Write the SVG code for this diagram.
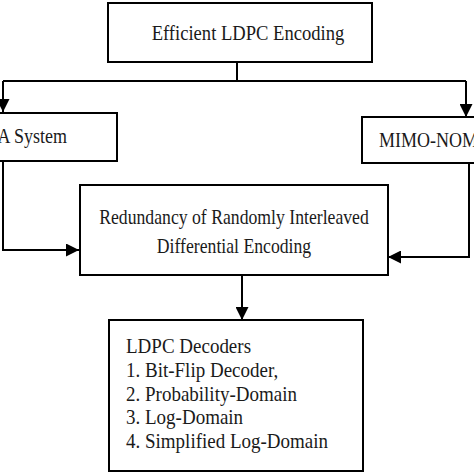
<svg xmlns="http://www.w3.org/2000/svg" width="474" height="474" viewBox="0 0 474 474">
<style>
.box{fill:#fff;stroke:#000;stroke-width:2}
.ln{fill:none;stroke:#000;stroke-width:2}
text{font-family:"Liberation Serif","Times New Roman",serif;fill:#1a1a1a}
</style>
<defs>
<marker id="ah" markerUnits="userSpaceOnUse" markerWidth="13" markerHeight="13" refX="13" refY="6.5" orient="auto">
<path d="M0,0 L13,6.5 L0,13 z" fill="#000"/>
</marker>
</defs>
<rect width="474" height="474" fill="#fff"/>
<g id="connectors">
<path class="ln" d="M237,62 V81"/>
<path class="ln" d="M3,81 H466"/>
<path class="ln" d="M3,81 V112" marker-end="url(#ah)"/>
<path class="ln" d="M466,81 V117" marker-end="url(#ah)"/>
<path class="ln" d="M3,161 V250 H79" marker-end="url(#ah)"/>
<path class="ln" d="M469,163 V257 H388" marker-end="url(#ah)"/>
<path class="ln" d="M242,275 V320" marker-end="url(#ah)"/>
</g>
<g id="top">
<rect class="box" x="108" y="3" width="264" height="59"/>
<text transform="translate(248,40) scale(1,1.18)" font-size="18.6" text-anchor="middle">Efficient LDPC Encoding</text>
</g>
<g id="left">
<rect class="box" x="-10" y="113" width="127" height="48"/>
<text transform="translate(67,143) scale(1,1.18)" font-size="18" text-anchor="end">A System</text>
</g>
<g id="right">
<rect class="box" x="362" y="117" width="122" height="46"/>
<text transform="translate(379,147) scale(1,1.18)" font-size="18">MIMO-NOM</text>
</g>
<g id="middle">
<rect class="box" x="80" y="185" width="308" height="90"/>
<text transform="translate(234,224) scale(1,1.18)" font-size="17.7" text-anchor="middle">Redundancy of Randomly Interleaved</text>
<text transform="translate(234,253) scale(1,1.18)" font-size="17.7" text-anchor="middle">Differential Encoding</text>
</g>
<g id="bottom">
<rect class="box" x="109" y="320" width="254" height="151"/>
<text transform="translate(126,353) scale(1,1.15)" font-size="19">LDPC Decoders</text>
<text transform="translate(126,377) scale(1,1.15)" font-size="19">1. Bit-Flip Decoder,</text>
<text transform="translate(126,401) scale(1,1.15)" font-size="19">2. Probability-Domain</text>
<text transform="translate(126,424) scale(1,1.15)" font-size="19">3. Log-Domain</text>
<text transform="translate(126,448) scale(1,1.15)" font-size="19">4. Simplified Log-Domain</text>
</g>
</svg>
